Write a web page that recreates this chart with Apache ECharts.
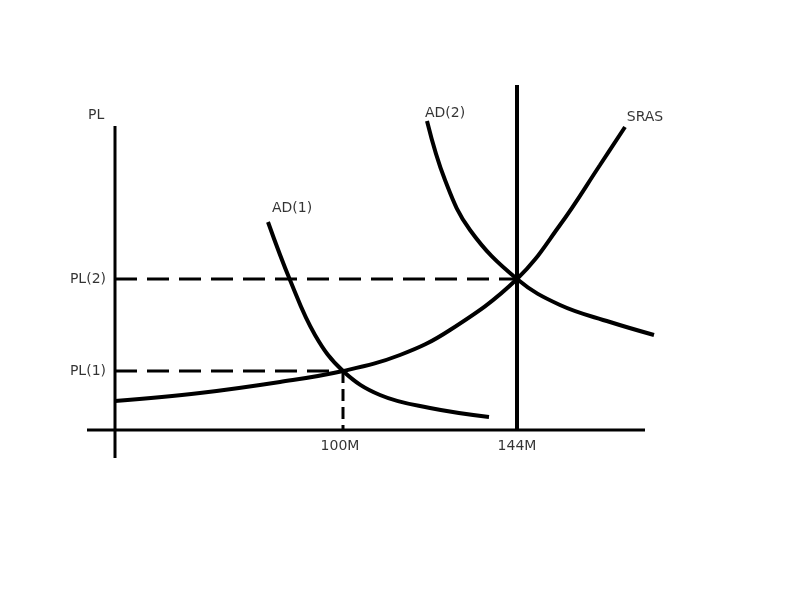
<!DOCTYPE html>
<html><head><meta charset="utf-8">
<script src="https://cdn.jsdelivr.net/npm/echarts@6/dist/echarts.min.js"></script>
<style>html,body{margin:0;background:#fff}#c{width:800px;height:600px}</style>
</head><body><div id="c"></div>
<script>
const xAxisLine=[[-28,0],[530,0]];
const yAxisLine=[[0,304],[0,-28]];
const lras=[[402,345],[402,0]];
const pl2Dash=[[0,151],[402,151]];
const pl1Dash=[[0,59],[228,59]];
const q1Dash=[[228,59],[228,0]];
const sras=[[0,29],[85,37],[165,48],[228,59],[285,75],[335,100],[402,151],[445,205],[485,265],[510,303]];
const ad1=[[153,208],[175,150],[200,95],[228,59],[265,35],[315,22],[374,13]];
const ad2=[[312,309],[330,250],[355,200],[402,151],[445,125],[495,108],[539,95]];
const labels=[
 {t:'PL',p:[-27,315],a:'left'},
 {t:'PL(2)',p:[-9,151],a:'right'},
 {t:'PL(1)',p:[-9,59],a:'right'},
 {t:'100M',p:[225,-16],a:'center'},
 {t:'144M',p:[402,-16],a:'center'},
 {t:'GDP',p:[550,-16],a:'center'},
 {t:'LRAS',p:[402,356],a:'center'},
 {t:'AD(2)',p:[330,317],a:'center'},
 {t:'SRAS',p:[530,313],a:'center'},
 {t:'AD(1)',p:[177,222],a:'center'}
];
const chart=echarts.init(document.getElementById('c'));
const ln=(d,w,dash,smooth)=>({type:'line',data:d,symbol:'none',smooth:smooth?0.4:false,
 lineStyle:{color:'#000',width:w,type:dash?[22,10]:'solid'},animation:false});
chart.setOption({
 grid:{left:85,right:140,top:80,bottom:140},
 xAxis:{type:'value',min:-30,max:545,show:false},
 yAxis:{type:'value',min:-30,max:350,show:false},
 series:[
  ln(xAxisLine,3),ln(yAxisLine,3),ln(lras,4),
  ln(pl2Dash,3,true),ln(pl1Dash,3,true),
  Object.assign(ln(q1Dash,3),{lineStyle:{color:'#000',width:3,type:[12,6]}}),
  ln(sras,4,false,true),ln(ad1,4,false,true),ln(ad2,4,false,true),
  {type:'scatter',symbolSize:0,animation:false,
   data:labels.map(l=>({value:l.p,label:{show:true,formatter:l.t,position:'inside',align:l.a,
     color:'#000',fontSize:14,fontFamily:'DejaVu Sans'}}))}
 ]
});
</script></body></html>
